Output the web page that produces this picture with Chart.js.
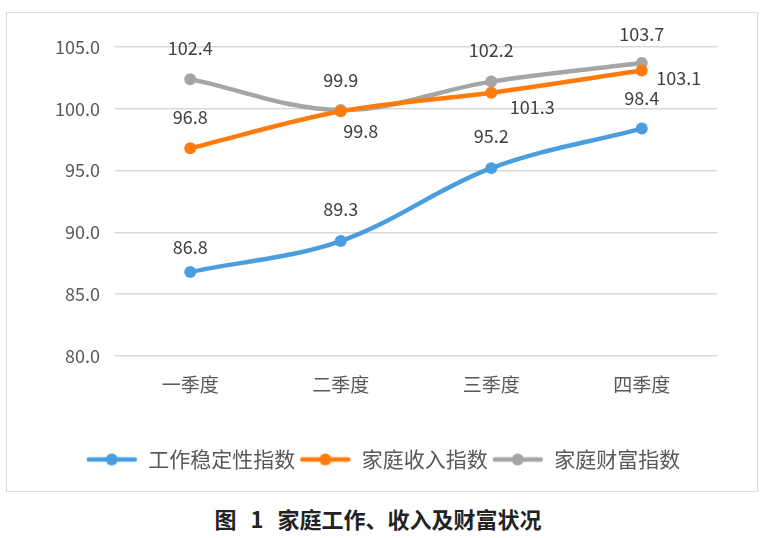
<!DOCTYPE html>
<html>
<head>
<meta charset="utf-8">
<script src="https://cdn.jsdelivr.net/npm/chart.js@4.4.1/dist/chart.umd.min.js"></script>
<style>
  body { margin: 0; background: #fff; }
  #wrap { position: relative; width: 766px; height: 538px; }
  #frame { position: absolute; left: 6px; top: 12px; width: 750px; height: 478px; border: 1px solid #d9d9d9; }
  #chartBox { position: absolute; left: 0; top: 0; width: 766px; height: 492px; }
  #caption { position: absolute; left: 0; top: 502px; width: 756px; text-align: center;
    font: bold 22px 'Noto Sans CJK SC', sans-serif; color: #222; word-spacing: 9px; }
</style>
</head>
<body>
<div id="wrap">
  <div id="frame"></div>
  <div id="chartBox"><canvas id="chart" width="766" height="492"></canvas></div>
  <div id="caption">图 1 家庭工作、收入及财富状况</div>
</div>
<script>
var quarters = ["一季度", "二季度", "三季度", "四季度"];
var seriesNames = ["工作稳定性指数", "家庭收入指数", "家庭财富指数"];
var jobIndex = [86.8, 89.3, 95.2, 98.4];
var incomeIndex = [96.8, 99.8, 101.3, 103.1];
var wealthIndex = [102.4, 99.9, 102.2, 103.7];
var yTicks = [80, 85, 90, 95, 100, 105];

var colors = ["#4a9ede", "#ff7b0c", "#a5a5a5"];
// where each value label sits relative to its point
var labelOffsets = [
    [[0, -25], [0, -32], [0, -32], [0, -30]],
    [[0, -31], [20, 20], [41, 14], [37, 8]],
    [[0, -31], [0, -30], [0, -31], [0, -29]]
];

function legendIcon(color) {
    var c = document.createElement("canvas");
    c.width = 52; c.height = 14;
    var g = c.getContext("2d");
    g.strokeStyle = color;
    g.lineWidth = 4.5;
    g.lineCap = "round";
    g.beginPath(); g.moveTo(3, 7); g.lineTo(49, 7); g.stroke();
    g.fillStyle = color;
    g.beginPath(); g.arc(26, 7, 6, 0, Math.PI * 2); g.fill();
    return c;
}

var valueLabels = {
    id: "valueLabels",
    afterDatasetsDraw: function(chart) {
        var ctx = chart.ctx;
        ctx.save();
        ctx.font = "18px 'Noto Sans CJK SC', sans-serif";
        ctx.fillStyle = "#404040";
        ctx.textAlign = "center";
        ctx.textBaseline = "middle";
        chart.data.datasets.forEach(function(ds, i) {
            chart.getDatasetMeta(i).data.forEach(function(pt, j) {
                var off = labelOffsets[i][j];
                ctx.fillText(ds.data[j].toFixed(1), pt.x + off[0], pt.y + off[1]);
            });
        });
        ctx.restore();
    }
};

function makeSet(name, data, color) {
    return {
        label: name,
        data: data,
        borderColor: color,
        backgroundColor: color,
        borderWidth: 4.5,
        pointRadius: 6,
        pointBackgroundColor: color,
        pointBorderWidth: 0,
        tension: 0.35
    };
}

var ctx = document.getElementById("chart");
var myChart = new Chart(ctx, {
    type: "line",
    data: {
        labels: quarters,
        datasets: [
            makeSet(seriesNames[0], jobIndex, colors[0]),
            makeSet(seriesNames[1], incomeIndex, colors[1]),
            makeSet(seriesNames[2], wealthIndex, colors[2])
        ]
    },
    options: {
        responsive: false,
        animation: false,
        layout: { padding: { top: 47, right: 49, bottom: 12, left: 49 } },
        plugins: {
            tooltip: { enabled: false },
            legend: {
                position: "bottom",
                labels: {
                    usePointStyle: true,
                    pointStyleWidth: 52,
                    boxHeight: 20,
                    padding: 4,
                    color: "#595959",
                    font: { size: 21, family: "'Noto Sans CJK SC', sans-serif" },
                    generateLabels: function(chart) {
                        var items = Chart.defaults.plugins.legend.labels.generateLabels(chart);
                        items.forEach(function(it, i) { it.pointStyle = legendIcon(colors[i]); });
                        return items;
                    }
                }
            }
        },
        scales: {
            x: {
                offset: true,
                grid: { display: false },
                border: { display: false },
                ticks: {
                    color: "#595959",
                    padding: 9,
                    font: { size: 19, family: "'Noto Sans CJK SC', sans-serif" }
                },
                afterFit: function(s) { s.height = 89; }
            },
            y: {
                min: yTicks[0],
                max: yTicks[yTicks.length - 1],
                afterBuildTicks: function(s) { s.ticks = yTicks.map(function(v) { return { value: v }; }); },
                grid: { color: "#d9d9d9", lineWidth: 1.5, drawTicks: false },
                border: { display: false },
                ticks: {
                    color: "#595959",
                    padding: 15,
                    font: { size: 18, family: "'Noto Sans CJK SC', sans-serif" },
                    callback: function(v) { return Number(v).toFixed(1); }
                },
                afterFit: function(s) { s.width = 66; }
            }
        }
    },
    plugins: [valueLabels]
});
</script>
</body>
</html>
